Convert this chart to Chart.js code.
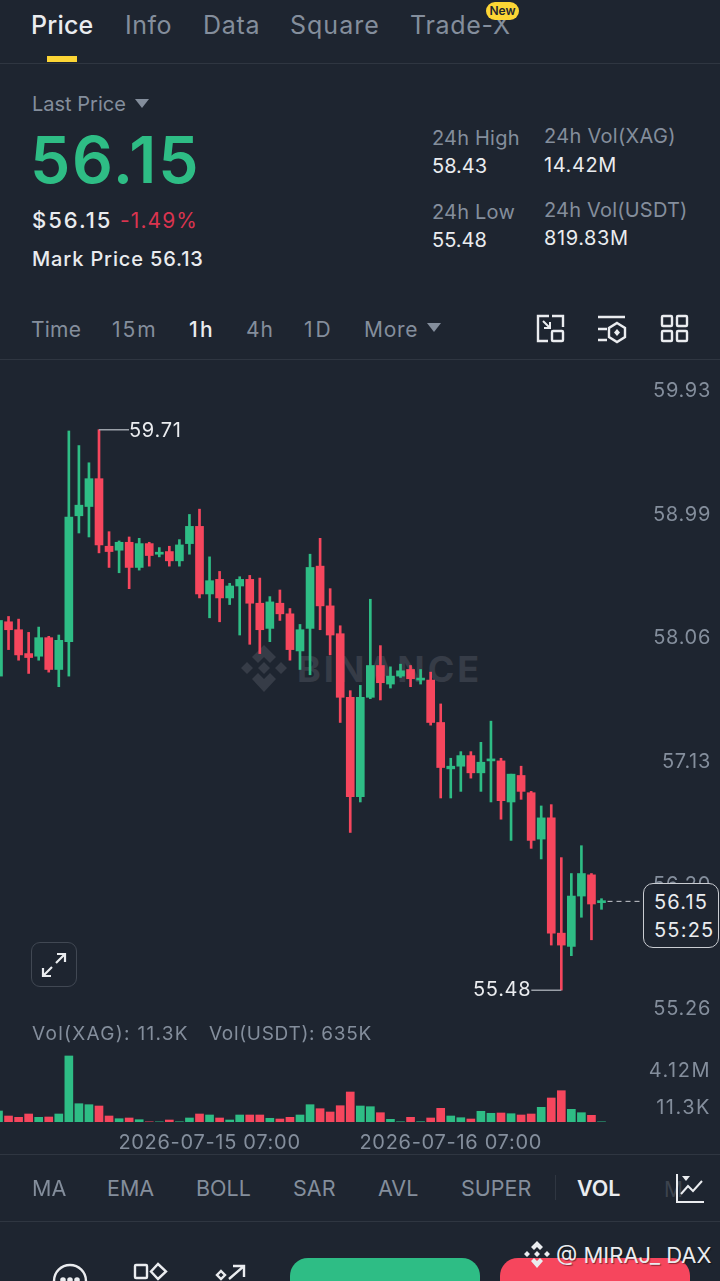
<!DOCTYPE html>
<html>
<head>
<meta charset="utf-8">
<script src="https://cdn.jsdelivr.net/npm/chart.js@4"></script>
<style>
  html, body { margin:0; padding:0; background:#1e2530; }
  #page { position:relative; width:720px; height:1281px; overflow:hidden; background:#1e2530; font-family:Inter, "Noto Sans", sans-serif; color:#848e9c; }
  #page canvas { position:absolute; left:0; }
  .t { position:absolute; white-space:nowrap; transform:translateY(-50%); line-height:1; }
  .w { color:#eaecef; }
  .rule { position:absolute; left:0; width:720px; height:1px; background:#2f3641; }
  .tri { position:absolute; width:0; height:0; border-left:7px solid transparent; border-right:7px solid transparent; border-top:9px solid #848e9c; }
  svg { position:absolute; overflow:visible; }
</style>
</head>
<body>
<div id="page">
  <span class="t w" style="left:31px;top:25px;font-size:25px;font-weight:500;letter-spacing:.2px">Price</span>
  <span class="t" style="left:125px;top:25px;font-size:25px;letter-spacing:.5px">Info</span>
  <span class="t" style="left:203px;top:25px;font-size:25px;letter-spacing:.7px">Data</span>
  <span class="t" style="left:290px;top:25px;font-size:25px;letter-spacing:1px">Square</span>
  <span class="t" style="left:410px;top:25px;font-size:25px;letter-spacing:.7px">Trade-X</span>
  <div style="position:absolute;left:486px;top:2px;width:33px;height:18px;border-radius:9px;background:#fcd535;color:#1e2530;font-size:12px;font-weight:600;line-height:18px;text-align:center">New</div>
  <div style="position:absolute;left:47px;top:56px;width:30px;height:6px;background:#fcd535"></div>
  <div class="rule" style="top:63px"></div>

  <span class="t" style="left:32px;top:104px;font-size:20px">Last Price</span>
  <div class="tri" style="left:135px;top:99px"></div>
  <span class="t" style="left:30px;top:160px;font-size:64px;font-weight:600;color:#2ebd85;letter-spacing:1.8px">56.15</span>
  <span class="t w" style="left:32px;top:220px;font-size:22px;font-weight:500;letter-spacing:2px">$56.15</span>
  <span class="t" style="left:120px;top:220px;font-size:21px;color:#d9344f;letter-spacing:1.1px">-1.49%</span>
  <span class="t w" style="left:32px;top:259px;font-size:20px;font-weight:500;letter-spacing:.85px">Mark Price 56.13</span>

  <span class="t" style="left:432px;top:138px;font-size:20px;letter-spacing:.2px">24h High</span>
  <span class="t w" style="left:432px;top:166px;font-size:20px">58.43</span>
  <span class="t" style="left:432px;top:212px;font-size:20px;letter-spacing:.2px">24h Low</span>
  <span class="t w" style="left:432px;top:240px;font-size:20px">55.48</span>
  <span class="t" style="left:544px;top:136px;font-size:20px;letter-spacing:.3px">24h Vol(XAG)</span>
  <span class="t w" style="left:544px;top:165px;font-size:20px;letter-spacing:.6px">14.42M</span>
  <span class="t" style="left:544px;top:210px;font-size:20px;letter-spacing:.2px">24h Vol(USDT)</span>
  <span class="t w" style="left:544px;top:238px;font-size:20px;letter-spacing:.6px">819.83M</span>

  <span class="t" style="left:31px;top:329px;font-size:21px;letter-spacing:.2px">Time</span>
  <span class="t" style="left:112px;top:329px;font-size:21px;letter-spacing:2px">15m</span>
  <span class="t w" style="left:189px;top:329px;font-size:21px;font-weight:500;letter-spacing:2.4px">1h</span>
  <span class="t" style="left:246px;top:329px;font-size:21px;letter-spacing:1px">4h</span>
  <span class="t" style="left:304px;top:329px;font-size:21px;letter-spacing:3px">1D</span>
  <span class="t" style="left:364px;top:329px;font-size:21px;letter-spacing:.7px">More</span>
  <div class="tri" style="left:427px;top:323px"></div>
  <svg style="left:537px;top:315px" width="28" height="28" fill="none" stroke="#eaecef" stroke-width="2.4">
    <path d="M12 1H1V26H11M15 1H26V12"/><rect x="15" y="16" width="11" height="10" rx="1"/><path d="M6 6L13 13M7 13H13V7" stroke-width="2"/>
  </svg>
  <svg style="left:597px;top:315px" width="30" height="28" fill="none" stroke="#eaecef" stroke-width="2.4">
    <path d="M1 2H28M1 14H10M1 25H10"/><path d="M20 8L28 13V22L20 27L12 22V13Z"/><path d="M20 14L23 17.5L20 21L17 17.5Z" fill="#eaecef" stroke="none"/>
  </svg>
  <svg style="left:661px;top:315px" width="28" height="28" fill="none" stroke="#eaecef" stroke-width="2.4">
    <rect x="1" y="1" width="10" height="10" rx="1"/><rect x="16" y="1" width="10" height="10" rx="1"/><rect x="1" y="16" width="10" height="10" rx="1"/><rect x="16" y="16" width="10" height="10" rx="1"/>
  </svg>
  <div class="rule" style="top:359px"></div>

  <svg style="left:240px;top:645px" width="48" height="48" fill="#363c47">
    <path d="M24 0L36 12L30 18L24 12L18 18L12 12ZM7 17L13 23L7 29L1 23ZM41 17L47 23L41 29L35 23ZM24 17L30 23L24 29L18 23ZM12 34L18 28L24 34L30 28L36 34L24 47Z"/>
  </svg>
  <span class="t" style="left:297px;top:669px;font-size:36px;font-weight:700;letter-spacing:3px;color:#363c47">BINANCE</span>

  <canvas id="candles" width="720" height="680" style="top:360px"></canvas>
  <canvas id="volume" width="720" height="105" style="top:1050px"></canvas>

  <div style="position:absolute;left:31px;top:942px;width:44px;height:43px;border:1px solid #414853;border-radius:9px;background:#1e2530"></div>
  <svg style="left:41px;top:952px" width="26" height="26" fill="none" stroke="#eaecef" stroke-width="2.2">
    <path d="M16 2H24V10M24 2L15 11M2 16V24H10M2 24L11 15"/>
  </svg>

  <span class="t" style="left:32px;top:1033px;font-size:19px;letter-spacing:1.3px">Vol(XAG): 11.3K</span>
  <span class="t" style="left:209px;top:1033px;font-size:19px;letter-spacing:.7px">Vol(USDT): 635K</span>

  <div style="position:absolute;left:643px;top:883px;width:74px;height:63px;border:1px solid #c9ccd1;border-radius:10px;background:#1e2530"></div>
  <span class="t w" style="left:654px;top:902px;font-size:20px;letter-spacing:1.2px">56.15</span>
  <span class="t w" style="left:654px;top:930px;font-size:20px;letter-spacing:1.2px">55:25</span>

  <div class="rule" style="top:1154px"></div>
  <span class="t" style="left:32px;top:1189px;font-size:21.5px">MA</span>
  <span class="t" style="left:107px;top:1189px;font-size:21.5px">EMA</span>
  <span class="t" style="left:196px;top:1189px;font-size:21.5px">BOLL</span>
  <span class="t" style="left:293px;top:1189px;font-size:21.5px">SAR</span>
  <span class="t" style="left:378px;top:1189px;font-size:21.5px">AVL</span>
  <span class="t" style="left:461px;top:1189px;font-size:21.5px">SUPER</span>
  <div style="position:absolute;left:555px;top:1175px;width:1px;height:25px;background:#2f3641"></div>
  <span class="t w" style="left:577px;top:1189px;font-size:21.5px;font-weight:600">VOL</span>
  <span class="t" style="left:664px;top:1189px;font-size:21px;color:#3c434e">M</span>
  <svg style="left:676px;top:1174px" width="28" height="30" fill="none" stroke="#eaecef" stroke-width="2">
    <path d="M1 0V28H28"/><path d="M5 20L12 12L17 17L26 7"/><path d="M6 2H14L10 7Z" fill="#eaecef" stroke="none"/>
  </svg>
  <div class="rule" style="top:1221px"></div>

  <svg style="left:53px;top:1264px" width="34" height="20" fill="none" stroke="#eaecef" stroke-width="2.4">
    <circle cx="17" cy="17" r="16"/><circle cx="10" cy="16" r="1.6" fill="#eaecef"/><circle cx="17" cy="16" r="1.6" fill="#eaecef"/><circle cx="24" cy="16" r="1.6" fill="#eaecef"/>
  </svg>
  <svg style="left:134px;top:1264px" width="33" height="16" fill="none" stroke="#eaecef" stroke-width="2.4">
    <rect x="1" y="1" width="12" height="13" rx="1"/><path d="M24 0L32 7.5L24 15L17 7.5Z"/>
  </svg>
  <svg style="left:216px;top:1264px" width="30" height="17" fill="none" stroke="#eaecef" stroke-width="2.4">
    <path d="M5 7L9 11L5 15L1 11Z"/><path d="M13 15L28 2M17 2H28V13"/>
  </svg>
  <div style="position:absolute;left:290px;top:1258px;width:190px;height:60px;border-radius:18px;background:#2ebd85"></div>
  <div style="position:absolute;left:500px;top:1258px;width:190px;height:60px;border-radius:18px;background:#f6465d"></div>
  <svg style="left:523px;top:1241px" width="28" height="28" fill="#eaecef">
    <path d="M14 0L20 6L17 9L14 6L11 9L8 6ZM4 10L7 13L4 16L1 13ZM24 10L27 13L24 16L21 13ZM14 10L17 13L14 16L11 13ZM8 20L11 17L14 20L17 17L20 20L14 27Z"/>
  </svg>
  <span class="t" style="left:556px;top:1255px;font-size:22px;color:#eaecef;text-shadow:1px 1px 1px rgba(0,0,0,.45)">@ MIRAJ_ DAX</span>
</div>

<script>
// hourly candles
const opens = [57.85,58.26,58.20,58.02,58.00,58.14,57.90,58.11,59.06,59.13,59.34,58.83,58.80,58.86,58.67,58.85,58.77,58.79,58.72,58.85,58.98,58.47,58.58,58.44,58.53,58.58,58.40,58.21,58.40,58.32,58.04,58.21,58.68,58.38,58.17,57.69,56.94,57.69,57.93,57.79,57.85,57.90,57.82,57.82,57.50,57.15,57.17,57.25,57.12,57.21,57.21,56.90,57.10,56.97,56.62,56.78,55.91,55.81,56.19,56.35,56.14];
const highs = [58.30,58.30,58.28,58.18,58.22,58.15,58.16,59.70,59.59,59.46,59.71,58.94,58.87,58.90,58.89,58.86,58.82,58.83,58.88,59.07,59.11,58.75,58.64,58.55,58.60,58.61,58.59,58.45,58.50,58.36,58.24,58.77,58.89,58.51,58.23,57.74,57.78,58.43,58.08,57.92,57.94,57.93,57.90,57.88,57.64,57.23,57.28,57.28,57.35,57.51,57.23,57.11,57.17,56.98,56.87,56.88,56.48,56.36,56.57,56.36,56.17];
const lows = [57.84,58.05,57.97,57.87,57.97,57.88,57.77,57.85,58.93,58.90,58.78,58.67,58.63,58.51,58.65,58.68,58.75,58.68,58.68,58.77,58.44,58.29,58.26,58.39,58.16,58.09,58.02,58.11,58.27,57.97,57.90,57.86,58.20,58.01,57.50,56.67,56.90,57.68,57.67,57.76,57.84,57.77,57.79,57.48,56.93,56.93,56.98,57.08,56.98,56.90,56.77,56.61,56.92,56.55,56.47,55.82,55.48,55.74,56.03,55.86,56.09];
const closes = [58.27,58.20,58.01,57.99,58.14,57.90,58.12,59.05,59.14,59.34,58.84,58.79,58.86,58.67,58.85,58.76,58.78,58.72,58.84,58.98,58.47,58.57,58.44,58.53,58.58,58.40,58.20,58.41,58.32,58.05,58.20,58.67,58.38,58.16,57.69,56.94,57.69,57.93,57.80,57.85,57.89,57.83,57.83,57.50,57.16,57.17,57.25,57.12,57.20,57.22,56.91,57.11,56.98,56.61,56.78,55.91,55.82,56.19,56.36,56.13,56.15];
// volume in thousands of XAG
const volumes = [686,374,293,499,293,312,499,4120,1142,1080,998,374,206,250,144,12,10,125,15,250,499,437,250,125,437,437,437,231,187,293,437,1080,830,624,1017,1872,998,955,580,168,15,293,20,250,855,374,268,187,668,543,562,518,437,499,917,1498,1953,792,580,418,11.3];

const priceTicks = [59.93,58.99,58.06,57.13,56.20,55.26];
const timeTicks = [21,45];
const timeLabels = ['2026-07-15 07:00','2026-07-16 07:00'];
const volTicks = [4120,11.3];
const volLabels = ['4.12M','11.3K'];
const highLabel = 59.71;
const lowLabel = 55.48;
const lastPrice = 56.15;

const UP = '#2ebd85';
const DOWN = '#f6465d';
const GREY = '#848e9c';
const candleColors = opens.map((o, i) => closes[i] >= o ? UP : DOWN);

// x axis: candle index, with the first one half cut off at the left edge
const X_MIN = 0.15;
const X_MAX = 71.79;

function noAxisPadding(axis) {
  axis.paddingTop = axis.paddingBottom = axis.paddingLeft = axis.paddingRight = 0;
}

// the app's digits run wider than Inter, canvas text inherits this
const spacedText = {
  id: 'spacedText',
  beforeDraw(chart, args, opts) { chart.ctx.letterSpacing = opts.spacing || '0px'; }
};

// labels on the high and low candles, plus the dashed last price line
const markerPlugin = {
  id: 'markers',
  afterDatasetsDraw(chart) {
    const { ctx, scales: { x, y } } = chart;
    const hi = highs.indexOf(highLabel);
    const lo = lows.indexOf(lowLabel);
    ctx.save();
    ctx.font = '20px Inter';
    ctx.textBaseline = 'middle';
    ctx.strokeStyle = '#9aa0a8';
    ctx.lineWidth = 1.5;
    ctx.fillStyle = '#eaecef';
    ctx.beginPath();
    ctx.moveTo(x.getPixelForValue(hi), y.getPixelForValue(highLabel));
    ctx.lineTo(x.getPixelForValue(hi) + 30, y.getPixelForValue(highLabel));
    ctx.moveTo(x.getPixelForValue(lo), y.getPixelForValue(lowLabel));
    ctx.lineTo(x.getPixelForValue(lo) - 30, y.getPixelForValue(lowLabel));
    ctx.stroke();
    ctx.textAlign = 'left';
    ctx.fillText(highLabel.toFixed(2), x.getPixelForValue(hi) + 30, y.getPixelForValue(highLabel) + 1);
    ctx.textAlign = 'right';
    ctx.fillText(lowLabel.toFixed(2), x.getPixelForValue(lo) - 30, y.getPixelForValue(lowLabel));

    ctx.setLineDash([5, 4]);
    ctx.lineWidth = 1;
    ctx.strokeStyle = '#c9ccd1';
    ctx.beginPath();
    ctx.moveTo(x.getPixelForValue(opens.length - 1) + 6, y.getPixelForValue(lastPrice));
    ctx.lineTo(643, y.getPixelForValue(lastPrice));
    ctx.stroke();
    ctx.restore();
  }
};

const volLabelPlugin = {
  id: 'volLabels',
  afterDraw(chart) {
    const { ctx, scales: { y } } = chart;
    ctx.save();
    ctx.font = '20px Inter';
    ctx.fillStyle = GREY;
    ctx.textAlign = 'right';
    ctx.textBaseline = 'middle';
    ctx.letterSpacing = '1.5px';
    ctx.fillText(volLabels[0], 711, y.getPixelForValue(volTicks[0]) + 15);
    ctx.fillText(volLabels[1], 711, y.getPixelForValue(volTicks[1]) - 14);
    ctx.restore();
  }
};

new Chart(document.getElementById('candles'), {
  type: 'bar',
  data: {
    datasets: [
      {
        label: 'wick',
        data: opens.map((_, i) => ({ x: i, y: [lows[i], highs[i]] })),
        backgroundColor: candleColors,
        barThickness: 2,
        grouped: false,
        order: 2
      },
      {
        label: 'body',
        data: opens.map((o, i) => ({ x: i, y: [Math.min(o, closes[i]), Math.max(o, closes[i])] })),
        backgroundColor: candleColors,
        barThickness: 8,
        minBarLength: 2,
        grouped: false,
        order: 1
      }
    ]
  },
  plugins: [spacedText, markerPlugin],
  options: {
    responsive: false,
    animation: false,
    layout: { padding: 0 },
    plugins: { legend: { display: false }, tooltip: { enabled: false }, spacedText: { spacing: '0.7px' } },
    scales: {
      x: { type: 'linear', display: false, offset: false, min: X_MIN, max: X_MAX, afterFit: noAxisPadding },
      y: {
        position: 'right',
        min: 55.1036,
        max: 60.2357,
        grid: { display: false, drawTicks: false },
        border: { display: false },
        afterBuildTicks: axis => { axis.ticks = priceTicks.map(v => ({ value: v })); },
        afterFit: axis => { axis.width = 0; noAxisPadding(axis); },
        ticks: {
          mirror: true,
          padding: -9,
          labelOffset: -10,
          color: GREY,
          font: { family: 'Inter', size: 20 },
          callback: v => v.toFixed(2)
        }
      }
    }
  }
});

new Chart(document.getElementById('volume'), {
  type: 'bar',
  data: {
    datasets: [{
      label: 'volume',
      data: volumes.map((v, i) => ({ x: i, y: v })),
      backgroundColor: candleColors,
      barThickness: 8
    }]
  },
  plugins: [spacedText, volLabelPlugin],
  options: {
    responsive: false,
    animation: false,
    layout: { padding: 0 },
    plugins: { legend: { display: false }, tooltip: { enabled: false }, spacedText: { spacing: '0.7px' } },
    scales: {
      x: {
        type: 'linear',
        offset: false,
        min: X_MIN,
        max: X_MAX,
        grid: { display: false, drawTicks: false },
        border: { display: false },
        afterBuildTicks: axis => { axis.ticks = timeTicks.map(v => ({ value: v })); },
        afterFit: axis => { axis.height = 33; noAxisPadding(axis); },
        ticks: {
          maxRotation: 0,
          autoSkip: false,
          padding: 9,
          color: GREY,
          font: { family: 'Inter', size: 20 },
          callback: v => timeLabels[timeTicks.indexOf(v)]
        }
      },
      y: {
        display: false,
        min: 0,
        max: 4493
      }
    }
  }
});
</script>
</body>
</html>
